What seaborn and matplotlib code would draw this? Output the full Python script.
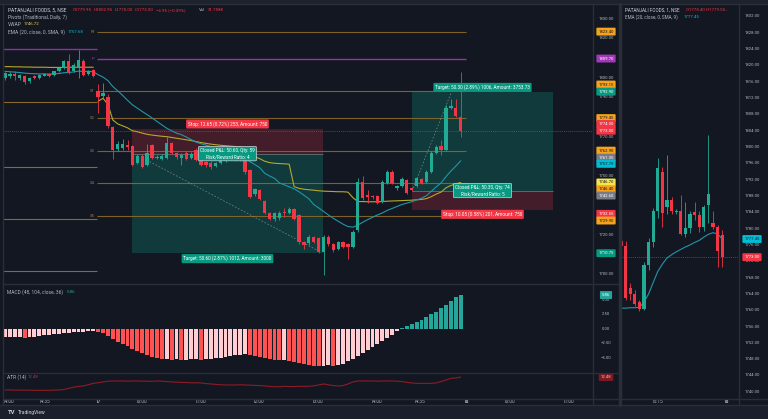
import numpy as np
import matplotlib
matplotlib.use("Agg")
import matplotlib.pyplot as plt
import matplotlib.transforms as mtrans
from matplotlib.patches import Rectangle
import seaborn as sns

# ---------------- data: 5-minute chart (bars 0..93) ----------------
open_5m = [1799.9, 1801.0, 1801.7, 1799.8, 1800.7, 1798.2, 1801.0, 1799.9, 1801.0, 1801.6,
           1801.5, 1803.2, 1805.0, 1808.5, 1803.5, 1805.5, 1808.6, 1802.0, 1803.7, 1793.0,
           1790.5, 1790.4, 1774.8, 1763.5, 1764.0, 1766.0, 1765.2, 1756.8, 1760.1, 1755.6,
           1765.8, 1759.0, 1758.5, 1759.0, 1766.6, 1761.5, 1759.0, 1761.8, 1759.0, 1763.2,
           1759.0, 1757.3, 1756.8, 1755.0, 1756.8, 1757.8, 1759.8, 1759.0, 1759.8, 1759.0,
           1753.0, 1740.9, 1742.9, 1737.3, 1731.0, 1728.1, 1728.5, 1731.8, 1731.0, 1733.0,
           1730.1, 1716.5, 1715.7, 1718.8, 1718.3, 1711.4, 1719.1, 1715.2, 1712.8, 1716.5,
           1715.2, 1714.0, 1722.5, 1747.2, 1740.4, 1739.9, 1739.8, 1736.9, 1746.6, 1752.2,
           1743.7, 1744.9, 1748.0, 1743.8, 1744.9, 1748.3, 1747.2, 1752.2, 1761.6, 1765.3,
           1763.3, 1784.5, 1784.6, 1779.95]
high_5m = [1803.0, 1803.0, 1803.2, 1802.0, 1801.5, 1800.5, 1801.5, 1802.0, 1802.3, 1802.2,
           1803.6, 1805.5, 1809.0, 1812.0, 1807.5, 1814.0, 1809.5, 1804.0, 1804.2, 1797.0,
           1797.5, 1791.5, 1775.5, 1768.0, 1769.0, 1768.5, 1766.0, 1761.0, 1761.0, 1766.5,
           1766.5, 1760.5, 1761.0, 1770.0, 1767.5, 1762.0, 1761.5, 1762.5, 1762.0, 1764.0,
           1759.5, 1758.0, 1757.5, 1757.0, 1758.8, 1759.5, 1760.5, 1759.5, 1760.3, 1759.5,
           1753.5, 1743.8, 1743.5, 1737.8, 1731.5, 1731.5, 1732.0, 1733.5, 1734.0, 1733.5,
           1730.5, 1717.0, 1719.8, 1719.5, 1719.0, 1720.0, 1719.8, 1715.8, 1717.0, 1717.0,
           1716.0, 1722.5, 1749.0, 1750.0, 1742.9, 1740.5, 1740.5, 1748.0, 1753.0, 1753.0,
           1745.5, 1749.5, 1748.5, 1744.5, 1749.5, 1749.0, 1753.0, 1762.5, 1766.0, 1768.4,
           1786.0, 1789.0, 1789.0, 1802.95]
low_5m = [1799.0, 1800.0, 1799.0, 1799.0, 1797.0, 1797.5, 1799.3, 1799.5, 1800.7, 1800.3,
          1801.0, 1802.8, 1804.5, 1802.0, 1803.0, 1799.6, 1800.8, 1801.5, 1800.5, 1782.0,
          1789.0, 1774.5, 1758.5, 1762.5, 1763.0, 1763.0, 1755.0, 1756.0, 1754.0, 1755.0,
          1758.8, 1758.5, 1758.0, 1758.5, 1761.0, 1758.8, 1755.6, 1758.0, 1758.5, 1757.5,
          1755.0, 1754.5, 1753.8, 1754.5, 1756.3, 1757.3, 1758.0, 1757.6, 1757.6, 1751.0,
          1738.8, 1740.0, 1737.8, 1730.5, 1727.5, 1727.3, 1727.5, 1729.3, 1730.5, 1727.5,
          1715.5, 1713.0, 1715.0, 1715.8, 1710.8, 1699.5, 1714.5, 1711.5, 1712.2, 1713.5,
          1708.0, 1713.5, 1721.5, 1738.0, 1736.4, 1738.5, 1735.8, 1736.3, 1746.0, 1745.8,
          1743.0, 1744.3, 1741.0, 1742.3, 1744.3, 1746.0, 1746.5, 1751.5, 1761.0, 1760.8,
          1762.5, 1784.0, 1779.8, 1770.0]
close_5m = [1802.4, 1801.6, 1800.7, 1801.5, 1797.6, 1799.9, 1799.9, 1801.5, 1802.0, 1800.7,
            1803.2, 1805.0, 1808.4, 1802.4, 1806.5, 1808.8, 1801.2, 1803.5, 1801.0, 1790.0,
            1792.0, 1775.2, 1763.3, 1766.5, 1766.2, 1764.5, 1755.6, 1760.1, 1754.7, 1761.8,
            1759.3, 1759.8, 1760.1, 1766.6, 1761.5, 1759.5, 1760.7, 1758.5, 1761.0, 1758.1,
            1755.6, 1755.6, 1754.4, 1756.4, 1758.1, 1759.0, 1758.5, 1758.1, 1758.1, 1752.2,
            1739.5, 1743.2, 1738.3, 1731.0, 1728.1, 1731.0, 1731.3, 1731.0, 1733.0, 1728.0,
            1716.2, 1714.8, 1719.1, 1716.5, 1711.4, 1719.1, 1715.2, 1712.3, 1716.5, 1714.0,
            1714.0, 1721.7, 1747.2, 1738.6, 1739.5, 1739.2, 1736.4, 1747.2, 1752.2, 1746.3,
            1744.9, 1748.3, 1741.5, 1742.9, 1748.8, 1746.6, 1752.2, 1761.6, 1764.7, 1763.3,
            1784.6, 1785.5, 1780.3, 1773.0]
ema_5m = [1803.2, 1803.0, 1802.8, 1802.6, 1802.3, 1802.1, 1802.0, 1801.9, 1801.9, 1801.8,
          1801.9, 1802.1, 1802.5, 1802.6, 1802.9, 1803.3, 1803.2, 1803.2, 1803.0, 1801.5,
          1800.3, 1798.5, 1795.5, 1793.3, 1791.0, 1788.5, 1786.2, 1784.5, 1782.8, 1781.2,
          1779.5, 1777.8, 1776.0, 1774.3, 1773.0, 1771.8, 1771.0, 1769.8, 1768.5, 1767.2,
          1766.4, 1765.7, 1765.0, 1764.2, 1763.8, 1763.3, 1762.6, 1761.8, 1760.6, 1759.0,
          1757.3, 1755.8, 1754.2, 1751.4, 1750.0, 1748.8, 1746.5, 1745.5, 1744.5, 1743.5,
          1742.0, 1740.2, 1738.4, 1735.5, 1733.8, 1732.0, 1730.2, 1728.5, 1727.0, 1725.5,
          1724.3, 1724.0, 1725.0, 1726.5, 1727.8, 1729.0, 1730.2, 1731.2, 1732.5, 1733.5,
          1734.5, 1735.5, 1736.2, 1736.9, 1737.8, 1738.7, 1740.0, 1742.2, 1744.5, 1746.5,
          1749.7, 1752.5, 1755.0, 1757.7]
vwap_prev_day = [1805.6, 1805.6, 1805.5, 1805.5, 1805.4, 1805.4, 1805.3, 1805.3, 1805.3, 1805.2,
                 1805.2, 1805.2, 1805.2, 1805.3, 1805.3, 1805.3, 1805.3, 1805.3, 1805.3]
vwap_day = [1788.0, 1789.5, 1786.5, 1778.5, 1776.5, 1775.5, 1774.5, 1773.0, 1772.5, 1771.8,
            1771.2, 1770.8, 1770.5, 1770.2, 1770.0, 1769.6, 1769.2, 1768.8, 1768.4, 1768.0,
            1767.5, 1767.0, 1766.6, 1766.2, 1765.9, 1765.6, 1765.4, 1765.2, 1765.0, 1764.8,
            1764.0, 1761.0, 1759.8, 1758.8, 1757.5, 1756.8, 1756.5, 1756.3, 1756.2, 1756.0,
            1744.6, 1743.7, 1743.3, 1743.0, 1742.8, 1742.5, 1742.3, 1742.2, 1742.1, 1742.0,
            1742.0, 1741.8, 1739.0, 1737.0, 1737.0, 1736.9, 1736.9, 1736.9, 1737.0, 1737.2,
            1737.3, 1737.4, 1737.5, 1737.6, 1737.7, 1737.9, 1738.1, 1738.5, 1739.5, 1740.8,
            1741.8, 1744.0, 1745.2, 1746.0, 1746.72]
macd_hist = [-1.40, -1.38, -1.37, -1.35, -1.50, -1.40, -1.30, -1.20, -1.10, -1.00,
             -0.90, -0.80, -0.72, -0.65, -0.58, -0.52, -0.47, -0.42, -0.38, -0.50,
             -0.75, -1.20, -1.75, -2.20, -2.65, -3.00, -3.40, -3.75, -4.10, -4.45,
             -4.75, -5.00, -5.20, -5.15, -5.30, -5.25, -5.35, -5.30, -5.25, -5.20,
             -5.30, -5.25, -5.15, -5.05, -4.95, -4.85, -4.70, -4.55, -4.40, -4.30,
             -4.45, -4.65, -4.85, -5.00, -5.15, -5.30, -5.40, -5.35, -5.55, -5.75,
             -5.95, -6.10, -6.20, -6.30, -6.35, -6.30, -6.25, -6.35, -6.25, -6.00,
             -5.60, -5.10, -4.60, -4.10, -3.60, -3.10, -2.60, -2.10, -1.60, -1.10,
             -0.40, 0.15, 0.45, 0.80, 1.20, 1.60, 2.00, 2.50, 3.00, 3.55,
             4.20, 4.90, 5.50, 5.86]
atr_5m = [6.0, 6.0, 5.9, 5.9, 5.9, 5.9, 5.8, 5.8, 5.8, 5.8, 5.9, 6.0, 6.2,
          6.8, 7.4, 7.8, 8.0, 8.6, 9.3, 9.6, 10.0, 10.4, 10.5,
          10.5, 10.5, 10.4, 10.5, 10.5, 10.4, 10.4, 10.3, 10.5, 10.4,
          10.2, 10.0, 9.9, 9.8, 9.7, 9.6, 9.6, 9.5, 9.2, 9.0,
          8.8, 8.6, 8.5, 8.5, 8.5, 8.6, 8.5, 8.4, 8.3, 8.2,
          8.0, 7.8, 7.6, 7.6, 7.8, 7.7, 7.7, 7.8, 7.8, 7.9,
          8.0, 8.5, 9.0, 8.6, 8.2, 8.0, 8.2, 9.0, 10.0, 10.5,
          10.5, 10.5, 10.5, 10.4, 10.5, 10.5, 10.5, 10.4, 10.2, 9.8,
          9.5, 9.3, 9.3, 9.3, 9.3, 9.5, 10.2, 11.0, 11.8, 12.0,
          12.48]

pivot_names = ["R1", "P", "S1", "S2", "S3", "S4", "S5"]
pivot_today = [1823.40, 1809.70, 1793.15, 1779.45, 1762.90, 1746.40, 1729.90]
pivot_prev_day = [1814.5, 1787.8, 1754.7, 1728.0, 1701.9]

# position tools: (first bar, last bar, entry, stop, target)
short_pos = (25.9, 64.9, 1761.35, 1774.00, 1710.75)
long_pos = (83.1, 111.8, 1742.60, 1732.55, 1792.90)
short_texts = ["Stop: 12.65 (0.72%) 253, Amount: 750",
               "Closed P&L: 50.60, Qty: 59\nRisk/Reward Ratio: 4",
               "Target: 50.60 (2.87%) 1012, Amount: 3000"]
long_texts = ["Target: 50.30 (2.89%) 1006, Amount: 3753.73",
              "Closed P&L: 50.30, Qty: 74\nRisk/Reward Ratio: 5",
              "Stop: 10.05 (0.58%) 201, Amount: 750"]

time_labels_5m = ["14:00", "14:35", "17", "10:00", "11:00", "12:00", "13:00",
                  "14:00", "14:35", "18", "10:00", "11:00"]
time_bars_5m = [0.8, 8.0, 19.0, 27.8, 39.8, 51.8, 63.7, 75.9, 84.5, 94.1, 103.0, 114.9]

# ---------------- data: 1-minute chart ----------------
open_1m = [1777.0, 1775.8, 1765.4, 1764.0, 1762.1, 1760.2, 1771.1, 1776.8, 1784.3, 1793.9,
           1785.4, 1786.9, 1784.0, 1784.4, 1778.6, 1780.2, 1784.0, 1783.3, 1780.4, 1785.7,
           1781.3, 1780.5, 1778.40]
high_1m = [1777.5, 1777.0, 1766.6, 1765.0, 1762.5, 1771.8, 1777.6, 1785.0, 1797.2, 1795.0,
           1798.1, 1787.8, 1784.8, 1788.2, 1786.4, 1784.3, 1786.4, 1784.3, 1785.7, 1802.95,
           1784.3, 1781.0, 1779.55]
low_1m = [1775.5, 1762.5, 1762.5, 1761.0, 1759.8, 1760.0, 1769.8, 1775.5, 1782.5, 1780.5,
          1783.5, 1783.6, 1783.5, 1778.4, 1778.0, 1778.8, 1782.2, 1779.1, 1779.5, 1781.3,
          1780.0, 1770.7, 1770.7]
close_1m = [1775.8, 1762.9, 1764.0, 1761.5, 1760.2, 1771.1, 1776.8, 1784.3, 1794.9, 1783.7,
            1786.9, 1784.2, 1784.3, 1778.6, 1780.2, 1783.5, 1783.4, 1780.4, 1785.3, 1788.6,
            1780.5, 1774.6, 1773.0]
ema_1m = [1760.5, 1760.5, 1760.6, 1760.6, 1760.7, 1762.0, 1764.0, 1766.8, 1769.5, 1771.3,
          1772.8, 1773.6, 1774.3, 1774.9, 1775.5, 1776.0, 1776.6, 1777.1, 1777.9, 1778.6,
          1779.0, 1778.7, 1777.45]
time_labels_1m = ["15:15", "18"]
time_bars_1m = [8.0, 23.0]

last_price = 1773.00

# ---------------- style ----------------
sns.set_theme(style="dark")
plt.rcParams["font.family"] = ["Roboto", "DejaVu Sans"]
BG = "#131722"
SEP = "#2a2e39"
TXT = "#b2b5be"
UP = "#22ab94"
DN = "#f23645"
ORANGE = "#f7a21b"
PURPLE = "#a238b8"
TEAL = "#089981"
GRAY = "#787b86"
CYAN = "#00bcd4"
YELLOW = "#f5e64c"
EMA_C = "#2196a8"
VWAP_C = "#b5a82c"
PIV_C = "#8a6a2a"

W, H = 768, 419
fig = plt.figure(figsize=(W / 100, H / 100), dpi=100)
fig.patch.set_facecolor(BG)


def add_ax(x0, y0, x1, y1):
    ax = fig.add_axes([x0 / W, 1 - y1 / H, (x1 - x0) / W, (y1 - y0) / H])
    ax.set_facecolor(BG)
    for s in ax.spines.values():
        s.set_visible(False)
    ax.tick_params(left=False, bottom=False, labelleft=False, labelbottom=False)
    ax.grid(False)
    return ax


def candles(ax, o, h, l, c, width):
    o, h, l, c = map(np.asarray, (o, h, l, c))
    x = np.arange(len(o))
    col = np.where(c >= o, UP, DN)
    ax.vlines(x, l, h, colors=col, linewidth=0.6, zorder=4)
    body = c - o
    body = np.where(np.abs(body) < 0.35, np.where(body >= 0, 0.35, -0.35), body)
    ax.bar(x, body, bottom=o, width=width, color=col, linewidth=0, zorder=5)


def fig_line(x0, y0, x1, y1, color=SEP, lw=1.0):
    fig.add_artist(plt.Line2D([x0 / W, x1 / W], [1 - y0 / H, 1 - y1 / H],
                              transform=fig.transFigure, color=color, lw=lw))


def ftext(x, y, s, color=TXT, fs=3.4, **kw):
    fig.text(x / W, 1 - y / H, s, color=color, fontsize=fs, va="center", **kw)


def scale_label(ax, xpx, val, s, fc, tc, dy=0.0, fs=3.1):
    base = mtrans.blended_transform_factory(fig.transFigure, ax.transData)
    tr = mtrans.offset_copy(base, fig=fig, x=0, y=dy, units="dots")
    ax.text(xpx / W, val, s, transform=tr, ha="center", va="center", fontsize=fs,
            color=tc, zorder=20, clip_on=False,
            bbox=dict(boxstyle="round,pad=0.45,rounding_size=0.2", fc=fc, ec="none"))


def scale_tick(ax, xpx, val, s, fs=3.1):
    tr = mtrans.blended_transform_factory(fig.transFigure, ax.transData)
    ax.text(xpx / W, val, s, transform=tr, ha="center", va="center", fontsize=fs,
            color=TXT, zorder=15, clip_on=False)


def chart_tag(ax, x, y, s, fc, dy=0.0, ec="none", fs=3.4):
    tr = mtrans.offset_copy(ax.transData, fig=fig, x=0, y=dy, units="dots")
    ax.text(x, y, s, transform=tr, ha="center", va="center", fontsize=fs, color="white",
            multialignment="center", zorder=20, linespacing=1.25,
            bbox=dict(boxstyle="round,pad=0.35,rounding_size=0.2", fc=fc, ec=ec, lw=0.5))


# ---------------- layout ----------------
ax_main = add_ax(3, 5, 592, 283.5)
ax_macd = add_ax(3, 284, 592, 373)
ax_atr = add_ax(3, 373.5, 592, 398)
ax_r = add_ax(622, 5, 738, 398)

BAR0, BARW = 5.0, 4.9   # pixel of bar 0, pixel spacing
xl = ((3 - BAR0) / BARW, (592 - BAR0) / BARW)
for a in (ax_main, ax_macd, ax_atr):
    a.set_xlim(*xl)
ax_main.set_ylim(1695.35, 1836.93)
ax_macd.set_ylim(-7.59, 7.76)
ax_atr.set_ylim(1.98, 14.23)
ax_r.set_xlim((622 - 621) / 4.6, (738 - 621) / 4.6)
ax_r.set_ylim(1738.48, 1834.8)

# ---------------- main pane ----------------
ax_main.hlines(pivot_prev_day[0], xl[0], 18.8, color=PURPLE, lw=1.0, alpha=0.85, zorder=2)
ax_main.hlines(pivot_prev_day[1:], xl[0], 18.8, color=PIV_C, lw=0.8, zorder=2)
piv_cols = [PIV_C, PURPLE] + [PIV_C] * 5
for name, v, c in zip(pivot_names, pivot_today, piv_cols):
    ax_main.hlines(v, 18.8, 94.1, color=c, lw=1.0 if name == "P" else 0.8,
                   alpha=0.9, zorder=2)
    ax_main.text(17.9, v, name, fontsize=3.0, color=c if name == "P" else "#8d7a45",
                 ha="center", va="center", zorder=6)

for (b0, b1, entry, stop, target) in (short_pos, long_pos):
    ax_main.add_patch(Rectangle((b0, min(entry, stop)), b1 - b0, abs(stop - entry),
                                fc=DN, alpha=0.22, lw=0, zorder=1))
    ax_main.add_patch(Rectangle((b0, min(entry, target)), b1 - b0, abs(target - entry),
                                fc=TEAL, alpha=0.27, lw=0, zorder=1))
    ax_main.hlines(entry, b0, b1, color=GRAY, lw=0.5, zorder=1.5)

ax_main.plot([28.9, 64.3], [1758.1, 1711.5], color="#9598a1", lw=0.6,
             ls=(0, (2, 2)), alpha=0.7, zorder=3)
ax_main.plot([83.3, 91.2], [1743.9, 1793.2], color="#9598a1", lw=0.6,
             ls=(0, (2, 2)), alpha=0.7, zorder=3)

ax_main.axhline(last_price, color=DN, lw=0.5, ls=(0, (1.5, 1.5)), alpha=0.8, zorder=2)

sns.lineplot(x=np.arange(len(vwap_prev_day)), y=vwap_prev_day, ax=ax_main,
             color=VWAP_C, lw=0.8, zorder=3)
sns.lineplot(x=np.arange(19, 19 + len(vwap_day)), y=vwap_day, ax=ax_main,
             color=VWAP_C, lw=0.8, zorder=3)
sns.lineplot(x=np.arange(len(ema_5m)), y=ema_5m, ax=ax_main, color=EMA_C, lw=0.8, zorder=3)

candles(ax_main, open_5m, high_5m, low_5m, close_5m, 0.68)

s_mid = (short_pos[0] + short_pos[1]) / 2
chart_tag(ax_main, s_mid, short_pos[3], short_texts[0], DN, dy=4.8)
chart_tag(ax_main, s_mid, short_pos[2], short_texts[1], TEAL, ec="#d1d4dc")
chart_tag(ax_main, s_mid, short_pos[4], short_texts[2], TEAL, dy=-5.4)
l_mid = (long_pos[0] + long_pos[1]) / 2
chart_tag(ax_main, l_mid, long_pos[4], long_texts[0], TEAL, dy=4.2)
chart_tag(ax_main, l_mid, long_pos[2], long_texts[1], TEAL, ec="#d1d4dc")
chart_tag(ax_main, l_mid, long_pos[3], long_texts[2], DN, dy=-4.0)

for v in range(1700, 1831, 10):
    scale_tick(ax_main, 606, v, f"{v:.2f}")
main_label_vals = [1823.40, 1809.70, 1793.15, 1792.90, 1779.45, 1774.00, 1773.00, 1762.90,
                   1761.35, 1757.70, 1746.70, 1746.40, 1742.60, 1732.55, 1729.90, 1710.75]
main_label_fc = [ORANGE, PURPLE, ORANGE, TEAL, ORANGE, DN, DN, ORANGE,
                 GRAY, CYAN, YELLOW, ORANGE, GRAY, DN, ORANGE, TEAL]
main_label_tc = [BG, "white", BG, "white", BG, "white", "white", BG,
                 "white", BG, BG, BG, "white", "white", BG, "white"]
main_label_dy = [0, 0, 6.6, 0, 0, 4.8, 0, 0, -4, -3, 0, -6, -5, -3.5, -5, 0]
for v, fc, tc, dy in zip(main_label_vals, main_label_fc, main_label_tc, main_label_dy):
    scale_label(ax_main, 606, v, f"{v:.2f}", fc, tc, dy)

# ---------------- MACD pane ----------------
hist = np.asarray(macd_hist)
prev = np.r_[hist[0], hist[:-1]]
hcol = np.where(hist >= 0, np.where(hist >= prev, "#26a69a", "#b2dfdb"),
                np.where(hist < prev, "#ff5252", "#ffcdd2"))
ax_macd.bar(np.arange(len(hist)), hist, width=0.8, color=hcol, linewidth=0, zorder=3)
for v, s in zip([5, 2.5, 0, -2.5, -5], ["5.00", "2.50", "0.00", "\u22122.50", "\u22125.00"]):
    scale_tick(ax_macd, 606, v, s)
scale_label(ax_macd, 606, macd_hist[-1], f"{macd_hist[-1]:.2f}", "#26a69a", "white")

# ---------------- ATR pane ----------------
sns.lineplot(x=np.arange(len(atr_5m)), y=atr_5m, ax=ax_atr, color="#8e1c26", lw=0.8)
scale_label(ax_atr, 606, atr_5m[-1], f"{atr_5m[-1]:.2f}", "#801922", "#f0b8bd")
ax_atr.set_xticks(time_bars_5m)
ax_atr.set_xticklabels(time_labels_5m)
ax_atr.tick_params(axis="x", bottom=False, labelbottom=True, length=0, pad=1.0,
                   labelsize=3.4, labelcolor=TXT)
for t in ax_atr.get_xticklabels():
    if t.get_text() in ("17", "18"):
        t.set_fontweight("bold")

# ---------------- right 1-minute pane ----------------
ax_r.axhline(last_price, color=DN, lw=0.5, ls=(0, (1.5, 1.5)), alpha=0.8, zorder=2)
sns.lineplot(x=np.arange(len(ema_1m)), y=ema_1m, ax=ax_r, color=EMA_C, lw=0.8, zorder=3)
candles(ax_r, open_1m, high_1m, low_1m, close_1m, 0.7)
for v in range(1740, 1833, 4):
    scale_tick(ax_r, 752, v, f"{v:.2f}")
scale_label(ax_r, 752, ema_1m[-1], f"{ema_1m[-1]:.2f}", CYAN, BG)
scale_label(ax_r, 752, close_1m[-1], f"{close_1m[-1]:.2f}", DN, "white")
ax_r.set_xticks(time_bars_1m)
ax_r.set_xticklabels(time_labels_1m)
ax_r.tick_params(axis="x", bottom=False, labelbottom=True, length=0, pad=1.0,
                 labelsize=3.4, labelcolor=TXT)
ax_r.get_xticklabels()[1].set_fontweight("bold")

for a in (ax_main, ax_macd, ax_atr, ax_r):
    a.set_xlabel("")
    a.set_ylabel("")
    leg = a.get_legend()
    if leg:
        leg.remove()

# ---------------- frame / separators ----------------
fig.add_artist(Rectangle((0, 0), 1, 14 / H, transform=fig.transFigure,
                         fc="#1b1f2b", ec="none", zorder=-1))
fig.add_artist(Rectangle((0, 1 - 4 / H), 1, 4 / H, transform=fig.transFigure,
                         fc="#1e222d", ec="none", zorder=-1))
fig_line(0, 4.5, 768, 4.5)
fig_line(2.5, 5, 2.5, 405)
fig_line(3, 283.8, 618, 283.8)
fig_line(3, 373.3, 618, 373.3)
fig_line(3, 398.5, 618, 398.5)
fig_line(622, 398.5, 768, 398.5)
fig_line(592.5, 5, 592.5, 405)
fig_line(738.5, 5, 738.5, 405)
fig_line(619.5, 4, 619.5, 405, color="#2a2e39", lw=2.5)
fig_line(0, 405, 768, 405)

# ---------------- legends / headers ----------------
HF = 3.5   # legend titles
VF = 3.2   # legend values
ftext(8, 10, "PATANJALI FOODS, 5, NSE", color="#d1d4dc", fs=HF)
ftext(73, 10, "O1779.95", color=DN, fs=VF)
ftext(94, 10, "H1802.95", color=DN, fs=VF)
ftext(115, 10, "L1770.00", color=DN, fs=VF)
ftext(135, 10, "C1773.00", color=DN, fs=VF)
ftext(156, 10, "\u22126.95 (\u22120.39%)", color=DN, fs=VF)
ftext(199, 10, "Vol", color=TXT, fs=VF)
ftext(208, 10, "31.758K", color=DN, fs=VF)
ftext(8, 17, "Pivots (Traditional, Daily, 7)", fs=HF)
ftext(8, 24, "VWAP", fs=HF)
ftext(24, 24, "1746.72", color="#e5d14f", fs=VF)
ftext(8, 32, "EMA (20, close, 0, SMA, 9)", fs=HF)
ftext(68, 32, "1757.68", color=CYAN, fs=VF)

ftext(7, 292, "MACD (48, 104, close, 36)", fs=HF)
ftext(67, 292, "5.86", color="#26a69a", fs=VF)
ftext(7, 377, "ATR (14)", fs=HF)
ftext(28, 377, "12.48", color="#c2303c", fs=VF)

ftext(625, 10, "PATANJALI FOODS, 1, NSE", color="#d1d4dc", fs=3.3)
ftext(686, 10, "O1778.40 H1779.55\u2026", color=DN, fs=VF)
ftext(625, 17, "EMA (20, close, 0, SMA, 9)", fs=3.3)
ftext(684, 17, "1777.45", color=CYAN, fs=VF)

ftext(8, 412.5, "TV", color="#d1d4dc", fs=4.2, fontweight="bold")
ftext(18, 412.5, "TradingView", color="#d1d4dc", fs=3.6)

fig.savefig("out.png", dpi=100, facecolor=BG)
